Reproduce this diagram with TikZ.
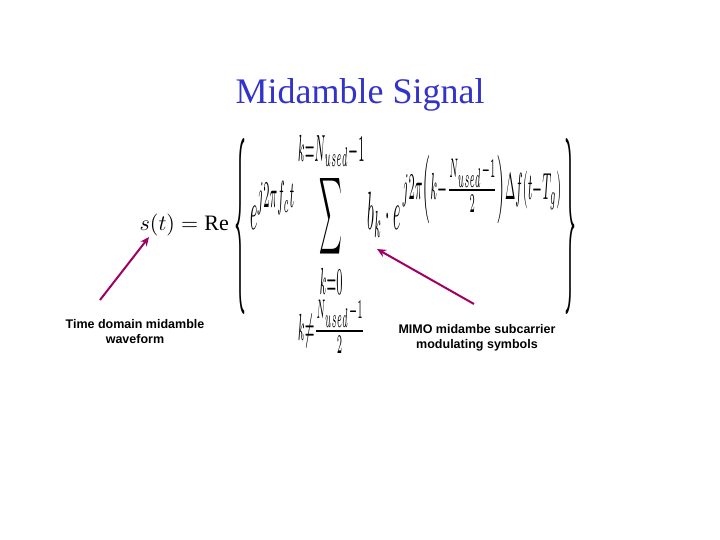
\documentclass[tikz,border=0pt]{standalone}
\usepackage{amsmath}
\usepackage{graphicx}
\usepackage{fontspec}
\setmainfont{Liberation Serif}
\newfontfamily\arialf{Liberation Sans}
\definecolor{titleblue}{RGB}{51,51,204}
\definecolor{arrowpurple}{RGB}{160,0,100}
\tikzset{lbl/.style={font=\arialf\bfseries\fontsize{12.5}{15}\selectfont,align=center},
 arr/.style={draw=arrowpurple,line width=2pt,-{Stealth[length=9pt,width=8pt]}}}
\usetikzlibrary{arrows.meta}
\begin{document}
\begin{tikzpicture}[x=1pt,y=1pt]
\useasboundingbox (0,0) rectangle (720,540);
\node[font=\fontsize{36}{40}\selectfont,text=titleblue] (title) at (360,445) {Midamble Signal};
\node[inner sep=0,anchor=east] (lhs) at (229,315) {\scalebox{2.2}{$s(t)=\mathrm{Re}$}};
\node[inner sep=0] (lb) at (240,314) {\resizebox{12pt}{132pt}{$\{$}};
\node[inner sep=0,anchor=west] (rhs) at (250,296) {\resizebox{312pt}{100pt}{$\displaystyle e^{j2\pi f_c t}\sum_{\substack{k=0\\ k\neq\frac{N_{used}-1}{2}}}^{k=N_{used}-1} b_k\cdot e^{\,j2\pi\left(k-\frac{N_{used}-1}{2}\right)\Delta f\left(t-T_g\right)}$}};
\node[inner sep=0] (rb) at (570,314) {\resizebox{12pt}{132pt}{$\}$}};
\node[lbl] (l1) at (135,208) {Time domain midamble\\waveform};
\node[lbl] (l2) at (477,202) {MIMO midambe subcarrier\\modulating symbols};
\coordinate (a1s) at (100,240);
\coordinate (a1e) at (149,303);
\coordinate (a2s) at (474,236);
\coordinate (a2e) at (377,291);
\draw[arr] (a1s) -- (a1e);
\draw[arr] (a2s) -- (a2e);
\end{tikzpicture}
\end{document}
